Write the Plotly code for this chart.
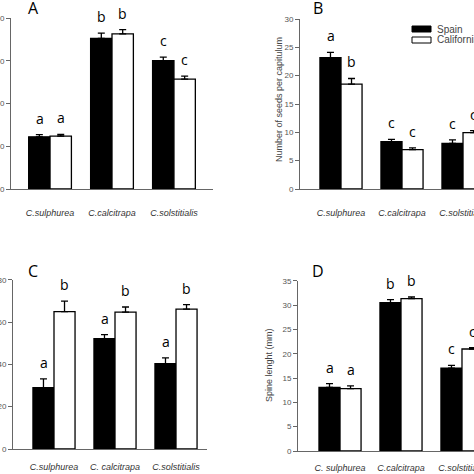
import plotly.graph_objects as go

# panel A
cats_A = ["C.sulphurea", "C.calcitrapa", "C.solstitialis"]
spain_A = [24.4, 70.4, 60.0]
spain_A_err = [1.0, 2.5, 1.7]
calif_A = [24.7, 72.6, 51.4]
calif_A_err = [0.8, 2.0, 1.4]
let_spain_A = ["a", "b", "c"]
let_calif_A = ["a", "b", "c"]

# panel B
cats_B = ["C.sulphurea", "C.calcitrapa", "C.solstitialis"]
spain_B = [23.2, 8.35, 8.06]
spain_B_err = [0.9, 0.4, 0.6]
calif_B = [18.5, 6.94, 9.94]
calif_B_err = [1.0, 0.3, 0.35]
let_spain_B = ["a", "c", "c"]
let_calif_B = ["b", "c", "c"]

# panel C
cats_C = ["C.sulphurea", "C. calcitrapa", "C.solstitialis"]
spain_C = [29.0, 52.1, 40.3]
spain_C_err = [4.1, 1.9, 2.8]
calif_C = [64.9, 64.7, 66.1]
calif_C_err = [5.0, 2.4, 2.1]
let_spain_C = ["a", "a", "a"]
let_calif_C = ["b", "b", "b"]

# panel D
cats_D = ["C. sulphurea", "C.calcitrapa", "C.solstitialis"]
spain_D = [13.08, 30.5, 17.05]
spain_D_err = [0.75, 0.6, 0.55]
calif_D = [12.8, 31.3, 20.96]
calif_D_err = [0.6, 0.35, 0.3]
let_spain_D = ["a", "b", "c"]
let_calif_D = ["a", "b", "c"]

series_names = ["Spain", "California"]
series_fill = ["black", "white"]

W, H = 474, 474
BW = 0.345  # bar width (category units)
FONT = "Liberation Sans"

fig = go.Figure()


def px_x(p):
    return p / W


def px_y(p):
    return 1 - p / H


def add_panel(n, cats, spain, spain_err, calif, calif_err, ls, lc):
    xa = "x" if n == 1 else "x%d" % n
    ya = "y" if n == 1 else "y%d" % n
    for name, vals, err, fill, off in [(series_names[0], spain, spain_err, series_fill[0], -BW),
                                       (series_names[1], calif, calif_err, series_fill[1], 0)]:
        fig.add_trace(go.Bar(
            x=cats, y=vals, name=name, xaxis=xa, yaxis=ya,
            width=BW, offset=off, marker_color=fill,
            marker_line=dict(color="black", width=1.3),
            error_y=dict(type="data", symmetric=False, array=err,
                         arrayminus=[0] * len(err), color="black",
                         thickness=1.3, width=3.5),
            showlegend=False,
        ))
    for i, c in enumerate(cats):
        for txt, v, e, sh in [(ls[i], spain[i], spain_err[i], -10.5),
                              (lc[i], calif[i], calif_err[i], 10.5)]:
            fig.add_annotation(x=c, y=v + e, xref=xa, yref=ya, text=txt,
                               showarrow=False, yanchor="bottom", yshift=5,
                               xshift=sh, font=dict(size=14, color="black", family="Open Sans"))


add_panel(1, cats_A, spain_A, spain_A_err, calif_A, calif_A_err, let_spain_A, let_calif_A)
add_panel(2, cats_B, spain_B, spain_B_err, calif_B, calif_B_err, let_spain_B, let_calif_B)
add_panel(3, cats_C, spain_C, spain_C_err, calif_C, calif_C_err, let_spain_C, let_calif_C)
add_panel(4, cats_D, spain_D, spain_D_err, calif_D, calif_D_err, let_spain_D, let_calif_D)

xcommon = dict(showline=True, linecolor="#666", linewidth=1, showgrid=False, zeroline=False,
               ticks="outside", tickcolor="rgba(0,0,0,0)", fixedrange=True, automargin=False,
               tickfont=dict(size=9, color="#333", family=FONT, style="italic"))
ycommon = dict(showline=True, linecolor="#666", linewidth=1, showgrid=False, zeroline=False,
               ticks="outside", ticklen=4, tickcolor="#666", fixedrange=True, automargin=False,
               tickfont=dict(size=8, color="#555", family=FONT))

fig.update_layout(
    width=W, height=H, margin=dict(l=0, r=0, t=0, b=0, autoexpand=False),
    paper_bgcolor="white", plot_bgcolor="white", barmode="overlay", showlegend=False,
    xaxis=dict(xcommon, domain=[px_x(11), px_x(213)], range=[-0.63, 2.63], ticklen=15, anchor="y"),
    yaxis=dict(ycommon, domain=[px_y(189), px_y(18)], range=[0, 80], dtick=20, anchor="x"),
    xaxis2=dict(xcommon, domain=[px_x(300), 1], range=[-0.672, 2.18], ticklen=15, anchor="y2"),
    yaxis2=dict(ycommon, domain=[px_y(189), px_y(19)], range=[0, 30], dtick=5, anchor="x2"),
    xaxis3=dict(xcommon, domain=[px_x(13), px_x(207)], range=[-0.672, 2.508], ticklen=9, anchor="y3"),
    yaxis3=dict(ycommon, domain=[px_y(449), px_y(279.7)], range=[0, 80], dtick=20, anchor="x3"),
    xaxis4=dict(xcommon, domain=[px_x(298), 1], range=[-0.689, 2.197], ticklen=8, anchor="y4"),
    yaxis4=dict(ycommon, domain=[px_y(451), px_y(280.7)], range=[0, 35], dtick=5, anchor="x4"),
)

# legend in panel B (wide flat swatches as in the original)
for i, (name, fill) in enumerate(zip(series_names, series_fill)):
    yc = 29 + 11 * i
    fig.add_shape(type="rect", xref="paper", yref="paper",
                  x0=px_x(412), x1=px_x(431), y0=px_y(yc + 3), y1=px_y(yc - 3),
                  fillcolor=fill, line=dict(color="black", width=1))
    fig.add_annotation(x=px_x(435), y=px_y(yc), xref="paper", yref="paper", text=name,
                       xanchor="left", yanchor="middle", showarrow=False,
                       font=dict(size=10, color="#444", family=FONT))

# panel letters and y titles
for t, x, y in [("A", 33, 8), ("B", 318, 8), ("C", 33, 271), ("D", 318, 271)]:
    fig.add_annotation(x=px_x(x), y=px_y(y), xref="paper", yref="paper", text=t,
                       xanchor="center", yanchor="middle", showarrow=False,
                       font=dict(size=16, color="black", family="Open Sans"))
fig.add_annotation(x=px_x(279), y=px_y(100), xref="paper", yref="paper",
                   text="Number of seeds per capitulum", textangle=-90, showarrow=False,
                   xanchor="center", yanchor="middle",
                   font=dict(size=9, color="#444", family=FONT))
fig.add_annotation(x=px_x(269), y=px_y(365), xref="paper", yref="paper",
                   text="Spine lenght (mm)", textangle=-90, showarrow=False,
                   xanchor="center", yanchor="middle",
                   font=dict(size=9, color="#444", family=FONT))

# drop the default page margin so the 474px figure fills the window
fig.write_html("out.html", config={"displayModeBar": False},
               post_script="document.body.style.margin='0';")
